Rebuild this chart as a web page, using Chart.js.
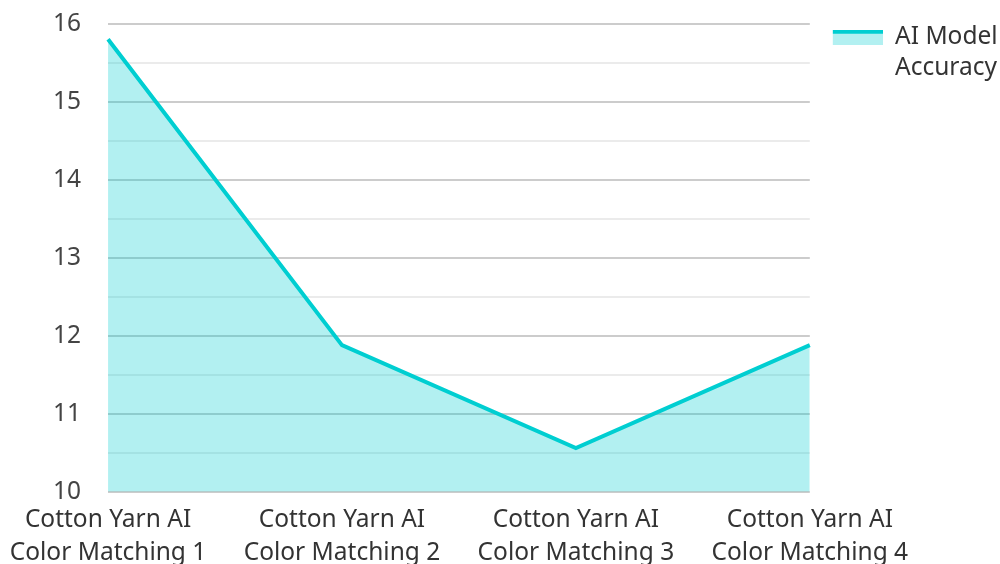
<!DOCTYPE html>
<html>
<head>
<meta charset="utf-8">
<script src="https://cdn.jsdelivr.net/npm/chart.js@4.4.1/dist/chart.umd.min.js"></script>
<style>
  html, body { margin: 0; padding: 0; background: #fff; overflow: hidden; }
  #wrap { width: 1000px; height: 573px; }
</style>
</head>
<body>
<div id="wrap"><canvas id="accuracyChart" width="1000" height="573"></canvas></div>
<script>
// Chart data
const categories = [
    ['Cotton Yarn AI', 'Color Matching 1'],
    ['Cotton Yarn AI', 'Color Matching 2'],
    ['Cotton Yarn AI', 'Color Matching 3'],
    ['Cotton Yarn AI', 'Color Matching 4']
];
const accuracyValues = [15.8, 11.88, 10.56, 11.88];
const seriesLabel = ['AI Model', 'Accuracy'];
const yMin = 10;
const yMax = 16;

const lineColor = 'rgb(0, 206, 209)';
const fillColor = 'rgba(0, 206, 209, 0.3)';
const fontFamily = 'Noto Sans';

// Legend swatch: thick line on top, fill below (transparent gap on the left)
const swatchGap = 21;
function makeSwatch() {
    const c = document.createElement('canvas');
    c.width = 50 + swatchGap;
    c.height = 15;
    const g = c.getContext('2d');
    g.fillStyle = fillColor;
    g.fillRect(swatchGap, 0, 50, 15);
    g.fillStyle = lineColor;
    g.fillRect(swatchGap, 0, 50, 4);
    return c;
}

const swatch = makeSwatch();

new Chart(document.getElementById('accuracyChart'), {
    type: 'line',
    data: {
        labels: categories,
        datasets: [{
            label: seriesLabel,
            data: accuracyValues,
            borderColor: lineColor,
            backgroundColor: fillColor,
            borderWidth: 4,
            fill: 'origin',
            pointRadius: 0,
            tension: 0
        }]
    },
    options: {
        responsive: false,
        animation: false,
        layout: { padding: { top: 1, right: -7, left: 44, bottom: 0 } },
        plugins: {
            tooltip: { enabled: false },
            legend: {
                position: 'right',
                align: 'start',
                title: {
                    display: true,
                    text: '',
                    font: { size: 10, lineHeight: 1 },
                    padding: { top: 12, bottom: 0 }
                },
                labels: {
                    usePointStyle: true,
                    pointStyle: swatch,
                    pointStyleWidth: 50 + swatchGap,
                    boxHeight: 15,
                    padding: 2,
                    color: '#333',
                    font: { family: fontFamily, size: 24.5, lineHeight: 1.27 },
                    generateLabels: chart => chart.data.datasets.map((ds, i) => ({
                        text: ds.label,
                        pointStyle: swatch,
                        fontColor: '#333',
                        datasetIndex: i,
                        lineWidth: 0
                    }))
                }
            }
        },
        scales: {
            x: {
                offset: false,
                grid: { display: false },
                border: { display: false },
                ticks: {
                    color: '#333',
                    maxRotation: 0,
                    autoSkip: false,
                    padding: 4,
                    font: { family: fontFamily, size: 24.5, lineHeight: 1.33 }
                }
            },
            y: {
                min: yMin,
                max: yMax,
                border: { display: false },
                grid: {
                    drawTicks: true,
                    tickLength: 18,
                    tickColor: 'rgba(0,0,0,0)',
                    lineWidth: 2,
                    color: ctx => (ctx.tick && ctx.tick.value % 1 === 0) ? '#cccccc' : '#ebebeb'
                },
                ticks: {
                    stepSize: 0.5,
                    padding: 9,
                    color: '#444',
                    font: { family: fontFamily, size: 24.5 },
                    callback: v => (v % 1 === 0 ? v : '')
                }
            }
        }
    }
});
</script>
</body>
</html>
